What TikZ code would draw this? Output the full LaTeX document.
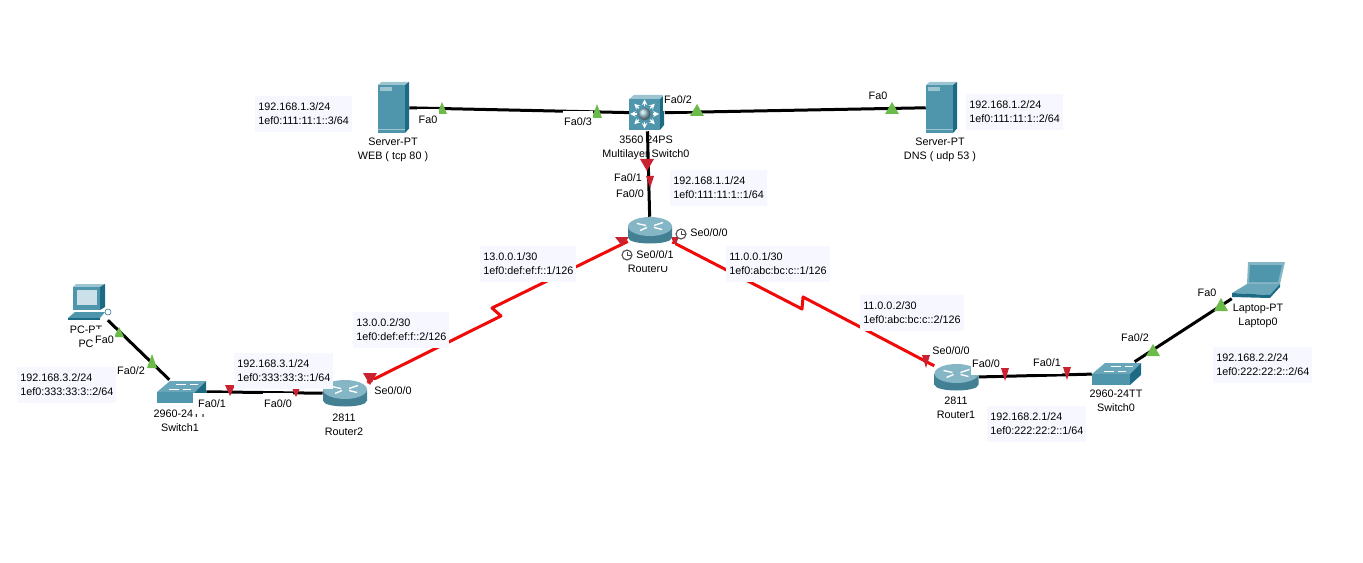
\documentclass[tikz,border=0pt]{standalone}
\usepackage{fontspec}
\setmainfont{Liberation Sans}
\usepackage{tikz}
\usetikzlibrary{positioning}
\definecolor{tealbase}{HTML}{4F96AD}
\definecolor{tealdark}{HTML}{1D6A85}
\definecolor{teallight}{HTML}{9CC4D1}
\definecolor{screenpale}{HTML}{CBE0E8}
\definecolor{linkred}{HTML}{F00A0A}
\definecolor{tipred}{HTML}{CB2231}
\definecolor{tipgreen}{HTML}{6CBB4A}
\definecolor{addrback}{HTML}{F7F8FF}
\newcommand{\netfont}{\fontsize{8.1}{10.5}\selectfont}
% triangles on the links: x, apex y, base y, half width
\newcommand{\tipgreen}[4]{\fill[tipgreen] (#1,#2) -- (#1+#4,#3) -- (#1-#4,#3) -- cycle;}
\newcommand{\tipred}[4]{\fill[tipred] (#1,#2) -- (#1+#4,#3) -- (#1-#4,#3) -- cycle;}
\tikzset{
    device/.style={
           rectangle,
           inner sep=0pt,
           },
    caption/.style={
           font=\netfont,
           align=center,
           inner sep=0pt,
           },
    port/.style={
           font=\netfont,
           fill=white,
           minimum height=16.5pt,
           inner xsep=1pt,
           inner ysep=0pt,
           },
    addr/.style={
           font=\netfont,
           fill=addrback,
           align=left,
           anchor=north west,
           inner xsep=2.25pt,
           inner ysep=5pt,
           },
    copper/.style={black, line width=2.25pt},
    serial/.style={linkred, line width=2.25pt, line join=round},
    routericon/.pic={
      % body, then the lid
      \path[left color=tealbase!85!black, middle color=white, right color=tealbase!85!black]
        (-22,-4) -- (-22,7) .. controls (-22,15) and (22,15) .. (22,7) -- (22,-4) -- cycle;
      \fill[teallight!70!tealbase] (0,-4) ellipse [x radius=22, y radius=9.5];
      \draw[white, line width=1pt] (-13,-7) -- (-4,-5) (13,-8) -- (4,-5) (-10,0) -- (-3,-3) (12,-1) -- (4,-3);
    },
    mlsicon/.pic={
      \fill[teallight] (-18,-14) -- (-13,-18) -- (17,-18) -- (13,-14) -- cycle;
      \fill[tealdark] (13,-14) -- (17,-18) -- (17,12) -- (13,17) -- cycle;
      \fill[tealbase] (-18,-14) rectangle (13,17);
      \foreach \ang in {0,45,...,315}
        \draw[white, line width=0.9pt, -stealth, shift={(-2.5,1)}] (\ang:8) -- (\ang:14.5);
      \shade[ball color=teallight] (-2.5,1) circle (6);
    },
    servericon/.pic={
      \fill[teallight] (-15.5,-22.5) -- (-12,-25.5) -- (15.5,-25.5) -- (11.5,-22.5) -- cycle;
      \fill[tealdark] (11.5,-22.5) -- (15.5,-25.5) -- (15.5,21) -- (11.5,25.5) -- cycle;
      \fill[tealbase] (-15.5,-22.5) rectangle (11.5,25.5);
      \fill[teallight] (-14,-20.5) rectangle (-2,-16);
      \draw[teallight, line width=0.5pt] (-15.5,21.5) -- (11.5,21.5);
    },
    switchicon/.pic={
      \fill[tealbase!85!white] (-24.5,0.5) -- (-11.5,-10.5) -- (24.5,-10.5) -- (13.5,0.5) -- cycle;
      \fill[tealdark] (13.5,0.5) -- (24.5,-10.5) -- (24.5,1.5) -- (13.5,11.5) -- cycle;
      \fill[tealbase] (-24.5,0.5) rectangle (13.5,11.5);
      \draw[white, line width=0.6pt] (-13,-2) -- (-3,-2) (1,-2) -- (9,-2) (-6,-7) -- (4,-7) (8,-7) -- (16,-7);
    },
    pcicon/.pic={
      \fill[teallight] (-16,-15) -- (-13,-18) -- (16,-18) -- (11,-15) -- cycle;
      \fill[tealdark] (11,-15) -- (16,-18) -- (16,5) -- (11,8) -- cycle;
      \fill[tealbase] (-16,-15) rectangle (11,8);
      \fill[screenpale] (-12,-12) rectangle (8,3);
      \fill[tealbase] (-21,16) -- (-14,10) -- (16,10) -- (11,16) -- cycle;
      \fill[tealdark] (-21,16) rectangle (11,18);
      \fill[white] (19,10) circle (3);
      \draw[tealdark, line width=0.4pt] (19,10) circle (3);
    },
    laptopicon/.pic={
      \fill[tealbase!70!white] (-11,-19) -- (26,-19) -- (21,3) -- (-12,3) -- cycle;
      \fill[tealbase] (-9,-16) -- (23,-16) -- (19,1) -- (-10,1) -- cycle;
      \fill[tealbase!85!white] (-12,3) -- (21,3) -- (11,14) -- (-27,12) -- cycle;
      \fill[tealdark] (-27,12) -- (11,14) -- (11,17) -- (-27,16) -- cycle;
      \fill[tealdark] (21,3) -- (11,14) -- (11,17) -- (21,6) -- cycle;
    },
    clockicon/.pic={
      \draw[black!70, fill=white, line width=0.8pt] (0,0) circle (5);
      \draw[black!70, line width=0.7pt] (0,-3.5) -- (0,0) -- (3.5,0);
    },
}
\begin{document}
\begin{tikzpicture}[x=0.75pt,y=-0.75pt]
 \useasboundingbox (0,0) rectangle (1363,563);

 % captions go under the links
 \node[caption] (WebCap) at (393,149.5) {Server-PT\\WEB ( tcp 80 )};
 \node[caption] (MlsCap) at (646,148) {3560 24PS\\Multilayer Switch0};
 \node[caption] (DnsCap) at (940,149.5) {Server-PT\\DNS ( udp 53 )};
 \node[caption] (RouterUCap) at (648,269) {RouterU};
 \node[caption] (PcCap) at (86,337) {PC-PT\\PC};
 \node[caption] (SwitchOneCap) at (180,420.5) {2960-24TT\\Switch1};
 \node[caption] (RouterTwoCap) at (344,425) {2811\\Router2};
 \node[caption] (RouterOneCap) at (956,408) {2811\\Router1};
 \node[caption] (SwitchZeroCap) at (1116,401) {2960-24TT\\Switch0};
 \node[caption] (LaptopCap) at (1258,316) {Laptop-PT\\Laptop0};

 % State: one box per device
 \node[device, minimum width=23.25pt, minimum height=38.25pt] (Web) at (393.5,107.5) {};
 \node[device, minimum width=26.25pt, minimum height=27pt] (Mls) at (647,113) {};
 \node[device, minimum width=23.25pt, minimum height=38.25pt] (Dns) at (941.5,107.5) {};
 \node[device, minimum width=33pt, minimum height=20.25pt] (RouterU) at (650,230.5) {};
 \node[device, minimum width=33pt, minimum height=21.75pt] (RouterTwo) at (345,393.5) {};
 \node[device, minimum width=33pt, minimum height=21.75pt] (RouterOne) at (956.5,377.5) {};
 \node[device, minimum width=36.75pt, minimum height=17.25pt] (SwitchOne) at (181.5,391.5) {};
 \node[device, minimum width=36.75pt, minimum height=17.25pt] (SwitchZero) at (1116.5,373.5) {};
 \node[device, minimum width=31.5pt, minimum height=27pt] (Pc) at (89,302) {};
 \node[device, minimum width=40.5pt, minimum height=27pt] (Laptop) at (1259,281) {};

 \coordinate (ZigLeftA) at (492,308);
 \coordinate (ZigLeftB) at (501,316);
 \coordinate (ZigRightA) at (802,309);
 \coordinate (ZigRightB) at (803,297);

 % draw the links
 \path
 (Web)		edge[copper]	(Mls)
 (Mls)		edge[copper]	(Dns)
 (Mls)		edge[copper]	(RouterU)
 (Pc)		edge[copper]	(SwitchOne)
 (SwitchOne)	edge[copper]	(RouterTwo)
 (RouterOne)	edge[copper]	(SwitchZero)
 (SwitchZero)	edge[copper]	(Laptop)
 ;
 \draw[serial] (RouterU) -- (ZigLeftA) -- (ZigLeftB) -- (RouterTwo);
 \draw[serial] (RouterU) -- (ZigRightA) -- (ZigRightB) -- (RouterOne);

 % link lights
 \tipgreen{442}{102}{114}{5}
 \tipgreen{597}{104}{118}{5}
 \tipgreen{697}{104}{116}{7}
 \tipgreen{892}{102}{114}{7}
 \tipgreen{119}{327}{337}{5}
 \tipgreen{152}{354}{368}{5}
 \tipgreen{1153}{344}{356}{7}
 \tipgreen{1221}{298}{311}{7}
 \tipred{647}{171}{159}{7}
 \tipred{650}{188}{176}{4}
 \tipred{622}{246}{237}{7}
 \tipred{675}{246}{237}{4}
 \tipred{370}{385}{373}{7}
 \tipred{926}{368}{355}{4}
 \tipred{1005}{381}{368}{4}
 \tipred{1067}{380}{367}{4}

 % icons
 \pic at (Web) {servericon};
 \pic at (Dns) {servericon};
 \pic at (Mls) {mlsicon};
 \pic at (RouterU) {routericon};
 \pic at (RouterTwo) {routericon};
 \pic at (RouterOne) {routericon};
 \pic at (SwitchOne) {switchicon};
 \pic at (SwitchZero) {switchicon};
 \pic at (Pc) {pcicon};
 \pic at (Laptop) {laptopicon};

 % port names, their white boxes hide what lies behind
 \node[port] (WebFa) at (428,120) {Fa0};
 \node[port] (MlsFaThree) at (578,122) {Fa0/3};
 \node[port] (MlsFaTwo) at (678,100) {Fa0/2};
 \node[port] (DnsFa) at (878,96) {Fa0};
 \node[port] (MlsFaOne) at (628,178) {Fa0/1};
 \node[port] (RouterUFa) at (630,194) {Fa0/0};
 \node[port] (RouterUSeOne) at (655,255) {Se0/0/1};
 \node[port] (RouterUSeZero) at (709,233) {Se0/0/0};
 \node[port] (PcFa) at (104.5,340) {Fa0};
 \node[port] (SwitchOneFaTwo) at (131,371) {Fa0/2};
 \node[port, inner xsep=3.75pt, minimum height=15.5pt] (SwitchOneFaOne) at (212,403.5) {Fa0/1};
 \node[port, minimum height=15.5pt] (RouterTwoFa) at (278,403.5) {Fa0/0};
 \node[port] (RouterTwoSe) at (393,391) {Se0/0/0};
 \node[port] (RouterOneSe) at (951,351) {Se0/0/0};
 \node[port] (RouterOneFa) at (986,364) {Fa0/0};
 \node[port] (SwitchZeroFaOne) at (1047,363) {Fa0/1};
 \node[port] (SwitchZeroFaTwo) at (1135,338) {Fa0/2};
 \node[port] (LaptopFa) at (1207,293) {Fa0};

 % these two lie over the white of the port names
 \tipred{230}{396}{385}{5}
 \tipred{296}{397}{388}{4}

 \pic at (627,255) {clockicon};
 \pic at (681,234) {clockicon};

 % addresses
 \node[addr] (WebAddr) at (255,96) {192.168.1.3/24\\1ef0:111:11:1::3/64};
 \node[addr] (DnsAddr) at (966,94) {192.168.1.2/24\\1ef0:111:11:1::2/64};
 \node[addr] (RouterUFaAddr) at (670,170) {192.168.1.1/24\\1ef0:111:11:1::1/64};
 \node[addr] (RouterULeftAddr) at (480,246) {13.0.0.1/30\\1ef0:def:ef:f::1/126};
 \node[addr] (RouterURightAddr) at (726,246) {11.0.0.1/30\\1ef0:abc:bc:c::1/126};
 \node[addr] (RouterOneSeAddr) at (860,295) {11.0.0.2/30\\1ef0:abc:bc:c::2/126};
 \node[addr] (RouterTwoSeAddr) at (353,312) {13.0.0.2/30\\1ef0:def:ef:f::2/126};
 \node[addr] (RouterTwoFaAddr) at (234,353) {192.168.3.1/24\\1ef0:333:33:3::1/64};
 \node[addr] (PcAddr) at (17,367) {192.168.3.2/24\\1ef0:333:33:3::2/64};
 \node[addr] (RouterOneFaAddr) at (987,406) {192.168.2.1/24\\1ef0:222:22:2::1/64};
 \node[addr] (LaptopAddr) at (1213,347) {192.168.2.2/24\\1ef0:222:22:2::2/64};
\end{tikzpicture}
\end{document}
